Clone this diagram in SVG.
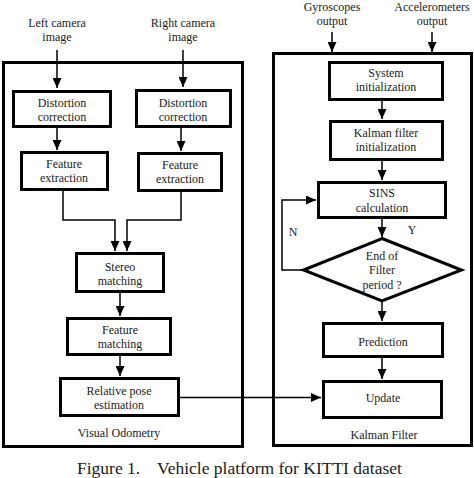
<svg xmlns="http://www.w3.org/2000/svg" width="474" height="478" viewBox="0 0 474 478" font-family="'Liberation Serif', 'Times New Roman', serif">
<defs>
<marker id="ah" markerUnits="userSpaceOnUse" markerWidth="11" markerHeight="9" refX="10" refY="4.5" orient="auto">
<path d="M0,0 L10,4.5 L0,9 z" fill="#000"/>
</marker>
<style>
text{font-family:"Liberation Serif","Times New Roman",serif;font-size:12px;fill:#1a1a1a;text-anchor:middle}
.box{fill:#fff;stroke:#000;stroke-width:3}
.frame{fill:none;stroke:#000;stroke-width:3}
.con{fill:none;stroke:#000;stroke-width:1.5}
.arr{marker-end:url(#ah)}
.cap{font-size:17.5px;text-anchor:start}
</style>
</defs>
<rect width="474" height="478" fill="#fff"/>
<g id="visual-odometry">
<rect class="frame" x="3.5" y="62.5" width="239" height="384"/>
<text x="119" y="437">Visual Odometry</text>
</g>
<g id="kalman-filter">
<rect class="frame" x="273.5" y="53.5" width="198" height="392"/>
<text x="384" y="439">Kalman Filter</text>
</g>
<g id="connectors">
<path class="con arr" d="M57,50 V88"/>
<path class="con arr" d="M183,50 V87"/>
<path class="con arr" d="M332,32 V52"/>
<path class="con arr" d="M432,32 V52"/>
<path class="con arr" d="M57,127 V150"/>
<path class="con arr" d="M181,127 V151"/>
<path class="con arr" d="M63,190 V220 H115 V251"/>
<path class="con arr" d="M181,190 V220 H127 V251"/>
<path class="con arr" d="M120,292 V316"/>
<path class="con arr" d="M120,355 V376"/>
<path class="con arr" d="M179,397.5 H321"/>
<path class="con arr" d="M382,100 V119"/>
<path class="con arr" d="M382,160 V180"/>
<path class="con arr" d="M382,218 V237"/>
<path class="con arr" d="M303,270 H282 V200 H316"/>
<path class="con arr" d="M382,301 V321"/>
<path class="con arr" d="M382,357 V379"/>
<text x="293" y="236">N</text>
<text x="412" y="234">Y</text>
</g>
<g id="left-camera-input">
<text x="57" y="27">Left camera</text>
<text x="57" y="41">image</text>
</g>
<g id="right-camera-input">
<text x="183" y="27">Right camera</text>
<text x="183" y="41">image</text>
</g>
<g id="gyroscopes-input">
<text x="332" y="11">Gyroscopes</text>
<text x="332" y="25">output</text>
</g>
<g id="accelerometers-input">
<text x="432" y="11">Accelerometers</text>
<text x="432" y="25">output</text>
</g>
<g id="distortion-left">
<rect class="box" x="13.5" y="91.5" width="97" height="35"/>
<text x="62" y="107">Distortion</text>
<text x="62" y="121">correction</text>
</g>
<g id="distortion-right">
<rect class="box" x="136.5" y="90.5" width="94" height="36"/>
<text x="183" y="107">Distortion</text>
<text x="183" y="121">correction</text>
</g>
<g id="feature-extraction-left">
<rect class="box" x="21.5" y="152.5" width="86" height="37"/>
<text x="64" y="168">Feature</text>
<text x="64" y="182">extraction</text>
</g>
<g id="feature-extraction-right">
<rect class="box" x="138.5" y="153.5" width="83" height="37"/>
<text x="180" y="169">Feature</text>
<text x="180" y="183">extraction</text>
</g>
<g id="stereo-matching">
<rect class="box" x="76.5" y="253.5" width="87" height="38"/>
<text x="120" y="271">Stereo</text>
<text x="120" y="285">matching</text>
</g>
<g id="feature-matching">
<rect class="box" x="67.5" y="318.5" width="103" height="36"/>
<text x="120" y="334">Feature</text>
<text x="120" y="348">matching</text>
</g>
<g id="relative-pose">
<rect class="box" x="60.5" y="378.5" width="118" height="37"/>
<text x="119" y="395">Relative pose</text>
<text x="119" y="409">estimation</text>
</g>
<g id="system-init">
<rect class="box" x="329.5" y="62.5" width="113" height="37"/>
<text x="386" y="77">System</text>
<text x="386" y="91">initialization</text>
</g>
<g id="kalman-init">
<rect class="box" x="330.5" y="121.5" width="112" height="38"/>
<text x="386" y="137">Kalman filter</text>
<text x="386" y="151">initialization</text>
</g>
<g id="sins-calc">
<rect class="box" x="318.5" y="182.5" width="127" height="35"/>
<text x="382" y="197">SINS</text>
<text x="382" y="212">calculation</text>
</g>
<g id="end-of-period">
<path class="box" d="M382,238.5 L461.5,270 L382,301 L303.5,270 Z"/>
<text x="382" y="260">End of</text>
<text x="382" y="274">Filter</text>
<text x="382" y="289">period ?</text>
</g>
<g id="prediction">
<rect class="box" x="323.5" y="323.5" width="119" height="33"/>
<text x="383" y="346">Prediction</text>
</g>
<g id="update">
<rect class="box" x="323.5" y="381.5" width="118" height="36"/>
<text x="383" y="402">Update</text>
</g>
<g id="caption">
<text class="cap" x="77" y="474">Figure 1.</text>
<text class="cap" x="157" y="474">Vehicle platform for KITTI dataset</text>
</g>
</svg>
